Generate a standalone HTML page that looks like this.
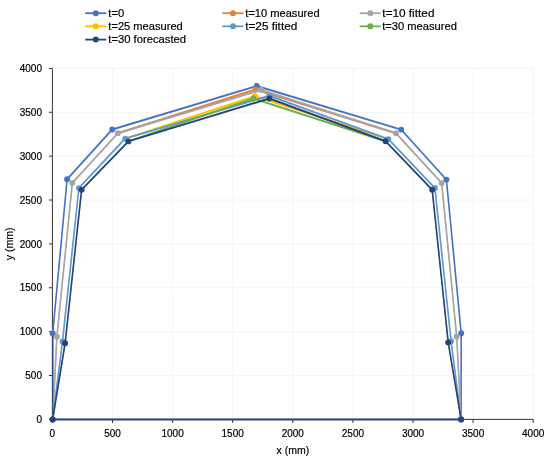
<!DOCTYPE html>
<html><head><meta charset="utf-8"><title>chart</title>
<style>
html,body{margin:0;padding:0;background:#fff;}
svg{display:block;}
text{font-family:"Liberation Sans",sans-serif;fill:#000;stroke:#000;stroke-width:0.18px;}
.tk{font-size:10px;}
.lg{font-size:10.7px;}
.ax{font-size:10.5px;}
</style></head><body>
<svg width="550" height="460" viewBox="0 0 550 460">
<rect width="550" height="460" fill="#fff"/>
<path d="M112.50 68.40V419.40M52.40 375.52H533.20M172.60 68.40V419.40M52.40 331.65H533.20M232.70 68.40V419.40M52.40 287.77H533.20M292.80 68.40V419.40M52.40 243.90H533.20M352.90 68.40V419.40M52.40 200.02H533.20M413.00 68.40V419.40M52.40 156.15H533.20M473.10 68.40V419.40M52.40 112.27H533.20M533.20 68.40V419.40M52.40 68.40H533.20" stroke="#f1f1f1" stroke-width="0.8" fill="none"/>
<path d="M52.40 68.40V419.40H533.20M52.40 419.40v3.6M52.40 419.40h-3.5M112.50 419.40v3.6M52.40 375.52h-3.5M172.60 419.40v3.6M52.40 331.65h-3.5M232.70 419.40v3.6M52.40 287.77h-3.5M292.80 419.40v3.6M52.40 243.90h-3.5M352.90 419.40v3.6M52.40 200.02h-3.5M413.00 419.40v3.6M52.40 156.15h-3.5M473.10 419.40v3.6M52.40 112.27h-3.5M533.20 419.40v3.6M52.40 68.40h-3.5" stroke="#333" stroke-width="1" fill="none"/>
<text class="tk" x="52.4" y="437.4" text-anchor="middle">0</text><text class="tk" x="112.5" y="437.4" text-anchor="middle">500</text><text class="tk" x="172.6" y="437.4" text-anchor="middle">1000</text><text class="tk" x="232.7" y="437.4" text-anchor="middle">1500</text><text class="tk" x="292.8" y="437.4" text-anchor="middle">2000</text><text class="tk" x="352.9" y="437.4" text-anchor="middle">2500</text><text class="tk" x="413.0" y="437.4" text-anchor="middle">3000</text><text class="tk" x="473.1" y="437.4" text-anchor="middle">3500</text><text class="tk" x="533.2" y="437.4" text-anchor="middle">4000</text><text class="tk" x="42" y="423.0" text-anchor="end">0</text><text class="tk" x="42" y="379.1" text-anchor="end">500</text><text class="tk" x="42" y="335.2" text-anchor="end">1000</text><text class="tk" x="42" y="291.4" text-anchor="end">1500</text><text class="tk" x="42" y="247.5" text-anchor="end">2000</text><text class="tk" x="42" y="203.6" text-anchor="end">2500</text><text class="tk" x="42" y="159.7" text-anchor="end">3000</text><text class="tk" x="42" y="115.9" text-anchor="end">3500</text><text class="tk" x="42" y="72.0" text-anchor="end">4000</text>
<text class="ax" x="292.9" y="454.1" text-anchor="middle">x (mm)</text>
<text class="ax" transform="translate(13.1 243.9) rotate(-90)" text-anchor="middle">y (mm)</text>
<g transform="scale(1 1.22)" fill="none" stroke="#4472C4" stroke-linejoin="round"><path d="M52.70 343.770 L52.70 273.279 L67.10 146.967 L112.20 106.148 L256.70 70.451 L401.20 106.230 L446.40 147.213 L461.20 273.197 L461.10 343.770" stroke-width="1.6"/></g><g fill="#4472C4"><circle cx="52.70" cy="419.40" r="2.95"/><circle cx="52.70" cy="333.40" r="2.95"/><circle cx="67.10" cy="179.30" r="2.95"/><circle cx="112.20" cy="129.50" r="2.95"/><circle cx="256.70" cy="85.95" r="2.95"/><circle cx="401.20" cy="129.60" r="2.95"/><circle cx="446.40" cy="179.60" r="2.95"/><circle cx="461.20" cy="333.30" r="2.95"/><circle cx="461.10" cy="419.40" r="2.95"/></g>
<g transform="scale(1 1.22)" fill="none" stroke="#ED7D31" stroke-linejoin="round"><path d="M52.70 343.770 L56.90 276.025 L72.30 150.000 L117.80 109.262 L255.50 73.361 L396.00 109.262 L441.70 150.082 L456.70 276.025 L461.10 343.770" stroke-width="0.6"/><path d="M117.80 109.262 L255.50 73.361 L396.00 109.262" stroke-width="1.6"/></g><g fill="#ED7D31"><circle cx="52.70" cy="419.40" r="2.35"/><circle cx="56.90" cy="336.75" r="2.35"/><circle cx="72.30" cy="183.00" r="2.35"/><circle cx="117.80" cy="133.30" r="2.35"/><circle cx="396.00" cy="133.30" r="2.35"/><circle cx="441.70" cy="183.10" r="2.35"/><circle cx="456.70" cy="336.75" r="2.35"/><circle cx="461.10" cy="419.40" r="2.35"/><circle cx="255.50" cy="89.50" r="2.95"/></g>
<g transform="scale(1 1.22)" fill="none" stroke="#A5A5A5" stroke-linejoin="round"><path d="M52.70 343.770 L56.90 276.025 L72.30 150.000 L117.80 109.262 L261.10 73.811 L396.00 109.262 L441.70 150.082 L456.70 276.025 L461.10 343.770" stroke-width="1.6"/></g><g fill="#A5A5A5"><circle cx="52.70" cy="419.40" r="2.95"/><circle cx="56.90" cy="336.75" r="2.95"/><circle cx="72.30" cy="183.00" r="2.95"/><circle cx="117.80" cy="133.30" r="2.95"/><circle cx="261.10" cy="90.05" r="2.95"/><circle cx="396.00" cy="133.30" r="2.95"/><circle cx="441.70" cy="183.10" r="2.95"/><circle cx="456.70" cy="336.75" r="2.95"/><circle cx="461.10" cy="419.40" r="2.95"/></g>
<g transform="scale(1 1.22)" fill="none" stroke="#FFC000" stroke-linejoin="round"><path d="M52.70 343.770 L62.50 279.918 L78.90 154.180 L125.20 113.607 L255.00 78.934 L388.30 114.016 L434.90 154.098 L451.10 279.672 L461.10 343.770" stroke-width="0.6"/><path d="M125.20 113.607 L255.00 78.934 L388.30 114.016" stroke-width="1.6"/></g><g fill="#FFC000"><circle cx="52.70" cy="419.40" r="2.35"/><circle cx="62.50" cy="341.50" r="2.35"/><circle cx="78.90" cy="188.10" r="2.35"/><circle cx="125.20" cy="138.60" r="2.35"/><circle cx="388.30" cy="139.10" r="2.35"/><circle cx="434.90" cy="188.00" r="2.35"/><circle cx="451.10" cy="341.20" r="2.35"/><circle cx="461.10" cy="419.40" r="2.35"/><circle cx="255.00" cy="96.30" r="2.95"/></g>
<g transform="scale(1 1.22)" fill="none" stroke="#5B9BD5" stroke-linejoin="round"><path d="M52.70 343.770 L62.50 279.918 L78.90 154.180 L125.20 113.607 L269.30 78.443 L388.30 114.016 L434.90 154.098 L451.10 279.672 L461.10 343.770" stroke-width="1.6"/></g><g fill="#5B9BD5"><circle cx="52.70" cy="419.40" r="2.95"/><circle cx="62.50" cy="341.50" r="2.95"/><circle cx="78.90" cy="188.10" r="2.95"/><circle cx="125.20" cy="138.60" r="2.95"/><circle cx="269.30" cy="95.70" r="2.95"/><circle cx="388.30" cy="139.10" r="2.95"/><circle cx="434.90" cy="188.00" r="2.95"/><circle cx="451.10" cy="341.20" r="2.95"/><circle cx="461.10" cy="419.40" r="2.95"/></g>
<g transform="scale(1 1.22)" fill="none" stroke="#70AD47" stroke-linejoin="round"><path d="M52.70 343.770 L65.10 281.393 L81.60 155.574 L128.30 115.902 L253.40 80.697 L385.60 115.820 L432.20 155.574 L448.20 280.656 L461.10 343.770" stroke-width="0.6"/><path d="M128.30 115.902 L253.40 80.697 L385.60 115.820" stroke-width="1.6"/></g><g fill="#70AD47"><circle cx="52.70" cy="419.40" r="2.35"/><circle cx="65.10" cy="343.30" r="2.35"/><circle cx="81.60" cy="189.80" r="2.35"/><circle cx="128.30" cy="141.40" r="2.35"/><circle cx="385.60" cy="141.30" r="2.35"/><circle cx="432.20" cy="189.80" r="2.35"/><circle cx="448.20" cy="342.40" r="2.35"/><circle cx="461.10" cy="419.40" r="2.35"/><circle cx="253.40" cy="98.45" r="2.95"/></g>
<g transform="scale(1 1.22)" fill="none" stroke="#264478" stroke-linejoin="round"><path d="M52.70 343.770 L65.10 281.393 L81.60 155.574 L128.30 115.902 L269.40 80.697 L385.60 115.820 L432.20 155.574 L448.20 280.656 L461.10 343.770Z" stroke-width="1.6"/></g><g fill="#264478"><circle cx="52.70" cy="419.40" r="2.95"/><circle cx="65.10" cy="343.30" r="2.95"/><circle cx="81.60" cy="189.80" r="2.95"/><circle cx="128.30" cy="141.40" r="2.95"/><circle cx="269.40" cy="98.45" r="2.95"/><circle cx="385.60" cy="141.30" r="2.95"/><circle cx="432.20" cy="189.80" r="2.95"/><circle cx="448.20" cy="342.40" r="2.95"/><circle cx="461.10" cy="419.40" r="2.95"/></g>
<path d="M52.70 336V415" stroke="#1b2c55" stroke-width="1.2" opacity="0.6" fill="none"/>
<path d="M52.50 416.30l3.1 3.1l-3.1 3.1l-3.1 -3.1Z" fill="#264478" stroke="#264478" stroke-width="0.6" stroke-linejoin="round"/>
<path d="M85.2 13.2h21" stroke="#4472C4" stroke-width="1.8"/><circle cx="95.8" cy="13.2" r="3" fill="#4472C4"/><text class="lg" x="108.3" y="16.8" textLength="15.8" lengthAdjust="spacingAndGlyphs">t=0</text>
<path d="M222.4 13.2h21" stroke="#ED7D31" stroke-width="1.8"/><circle cx="233.0" cy="13.2" r="3" fill="#ED7D31"/><text class="lg" x="245.2" y="16.8" textLength="74.5" lengthAdjust="spacingAndGlyphs">t=10 measured</text>
<path d="M359.7 13.2h21" stroke="#A5A5A5" stroke-width="1.8"/><circle cx="370.3" cy="13.2" r="3" fill="#A5A5A5"/><text class="lg" x="382.2" y="16.8" textLength="52.3" lengthAdjust="spacingAndGlyphs">t=10 fitted</text>
<path d="M85.2 26.3h21" stroke="#FFC000" stroke-width="1.8"/><circle cx="95.8" cy="26.3" r="3" fill="#FFC000"/><text class="lg" x="108.3" y="29.9" textLength="74.5" lengthAdjust="spacingAndGlyphs">t=25 measured</text>
<path d="M222.4 26.3h21" stroke="#5B9BD5" stroke-width="1.8"/><circle cx="233.0" cy="26.3" r="3" fill="#5B9BD5"/><text class="lg" x="245.2" y="29.9" textLength="52.1" lengthAdjust="spacingAndGlyphs">t=25 fitted</text>
<path d="M359.7 26.3h21" stroke="#70AD47" stroke-width="1.8"/><circle cx="370.3" cy="26.3" r="3" fill="#70AD47"/><text class="lg" x="382.2" y="29.9" textLength="74.7" lengthAdjust="spacingAndGlyphs">t=30 measured</text>
<path d="M85.2 39.6h21" stroke="#264478" stroke-width="1.8"/><circle cx="95.8" cy="39.6" r="3" fill="#264478"/><text class="lg" x="108.3" y="43.2" textLength="77.8" lengthAdjust="spacingAndGlyphs">t=30 forecasted</text>
</svg></body></html>
